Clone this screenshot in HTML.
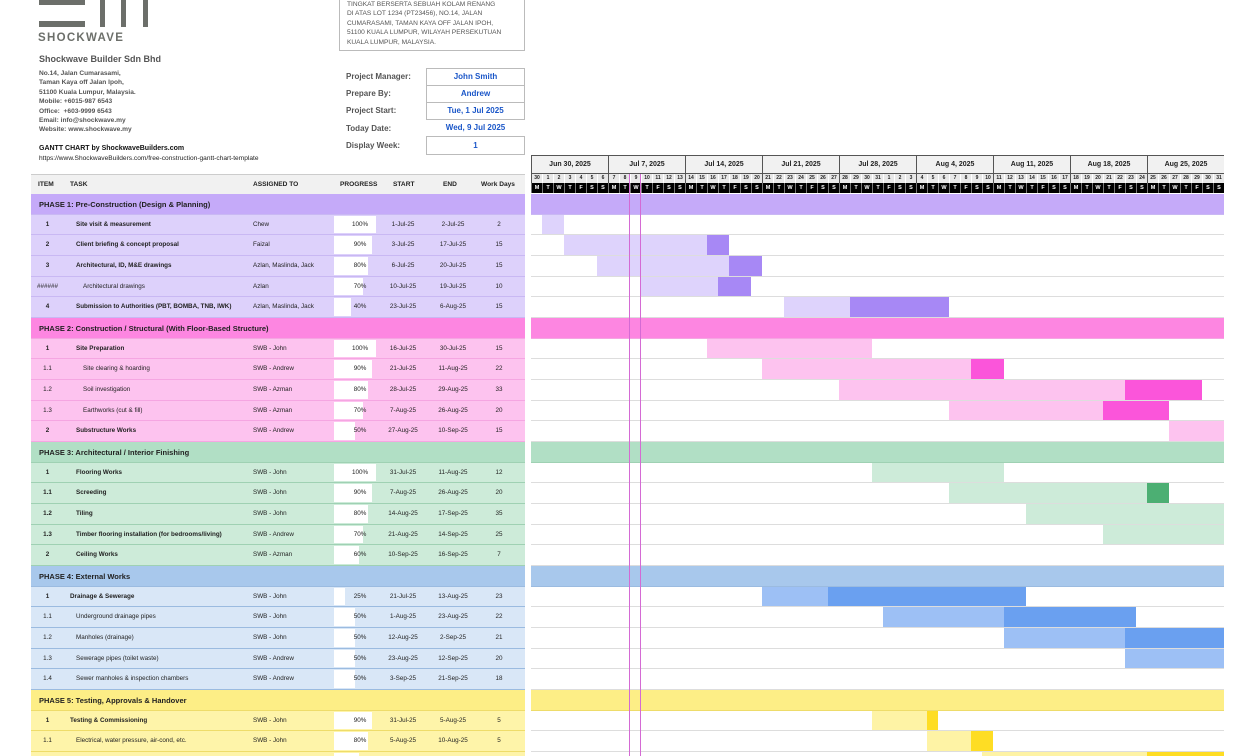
<!DOCTYPE html>
<html><head><meta charset="utf-8">
<style>
html,body{margin:0;width:1249px;height:756px;overflow:hidden}
body{background:#fff;font-family:"Liberation Sans",Arial,sans-serif;position:relative}
.a{position:absolute;white-space:nowrap}
.lbl{font-size:8px;font-weight:bold;color:#555}
.val{font-size:8px;font-weight:bold;color:#1a56c8;text-align:center}
.box{position:absolute;border:1px solid #bbb;box-sizing:border-box}
</style></head><body>
<div class="a" style="left:0;top:0;width:160px;height:46px">
  <div class="a" style="left:39px;top:0;width:46px;height:5px;background:#6c6f6a"></div>
  <div class="a" style="left:39px;top:21px;width:46px;height:6px;background:#6c6f6a"></div>
  <div class="a" style="left:100px;top:0;width:5px;height:27px;background:#6c6f6a"></div>
  <div class="a" style="left:121px;top:0;width:5px;height:27px;background:#6c6f6a"></div>
  <div class="a" style="left:143px;top:0;width:5px;height:27px;background:#6c6f6a"></div>
  <div class="a" style="left:38px;top:32px;font-size:11.5px;font-weight:bold;color:#6c6f6a;letter-spacing:1.3px">SHOCKWAVE</div>
</div>
<div class="a" style="left:39px;top:54px;font-size:9px;font-weight:bold;color:#555">Shockwave Builder Sdn Bhd</div>
<div class="a" style="left:39px;top:69px;font-size:6.6px;font-weight:bold;color:#555;line-height:9.4px">No.14, Jalan Cumarasami,<br>Taman Kaya off Jalan Ipoh,<br>51100 Kuala Lumpur, Malaysia.<br>Mobile: +6015-987 6543<br>Office:&nbsp; +603-9999 6543<br>Email: info@shockwave.my<br>Website: www.shockwave.my</div>
<div class="a" style="left:39px;top:145px;font-size:7px;font-weight:bold;color:#111">GANTT CHART by ShockwaveBuilders.com</div>
<div class="a" style="left:39px;top:155px;font-size:6.6px;color:#222">https://www.ShockwaveBuilders.com/free-construction-gantt-chart-template</div>

<div class="box" style="left:339px;top:-5px;width:186px;height:56px;padding:4px 0 0 7px;font-size:6.6px;color:#555;line-height:9.4px">TINGKAT BERSERTA SEBUAH KOLAM RENANG<br>DI ATAS LOT 1234 (PT23456), NO.14, JALAN<br>CUMARASAMI, TAMAN KAYA OFF JALAN IPOH,<br>51100 KUALA LUMPUR, WILAYAH PERSEKUTUAN<br>KUALA LUMPUR, MALAYSIA.</div>

<div class="a lbl" style="left:346px;top:72px">Project Manager:</div>
<div class="a lbl" style="left:346px;top:89px">Prepare By:</div>
<div class="a lbl" style="left:346px;top:106px">Project Start:</div>
<div class="a lbl" style="left:346px;top:124px">Today Date:</div>
<div class="a lbl" style="left:346px;top:141px">Display Week:</div>
<div class="box val" style="left:426px;top:68px;width:99px;height:18px;line-height:16px">John Smith</div>
<div class="box val" style="left:426px;top:85px;width:99px;height:18px;line-height:16px">Andrew</div>
<div class="box val" style="left:426px;top:102px;width:99px;height:18px;line-height:16px">Tue, 1 Jul 2025</div>
<div class="a val" style="left:426px;top:123px;width:99px">Wed, 9 Jul 2025</div>
<div class="box val" style="left:426px;top:136px;width:99px;height:19px;line-height:17px">1</div>

<div class="a" style="left:31px;top:174px;width:494px;height:20px;background:#f1f1f1;border-top:1px solid #ccc;font-size:6.6px;font-weight:bold;color:#222">
  <span class="a" style="left:7px;top:6px">ITEM</span>
  <span class="a" style="left:39px;top:6px">TASK</span>
  <span class="a" style="left:222px;top:6px">ASSIGNED TO</span>
  <span class="a" style="left:309px;top:6px">PROGRESS</span>
  <span class="a" style="left:362px;top:6px">START</span>
  <span class="a" style="left:412px;top:6px">END</span>
  <span class="a" style="left:450px;top:6px">Work Days</span>
</div>
<div id="gh"></div>
<div id="rows"></div>

<script>
const phases=["PHASE 1: Pre-Construction (Design & Planning)","PHASE 2: Construction / Structural  (With Floor-Based Structure)","PHASE 3: Architectural / Interior Finishing","PHASE 4: External Works","PHASE 5: Testing, Approvals & Handover"];
const phaseColors=[["#c5aaf9","#ddd1fb","#ded3fc","#a788f5","#c9b8f3"],["#fd86e1","#fdc3ef","#fdc3ef","#fb55da","#f5a6e2"],["#b1dfc5","#cdebd9","#cdebd9","#4caf73","#9fd1b3"],["#a8c8ec","#d9e7f7","#9dc0f5","#6aa0f0","#9bbbe0"],["#fdee86","#fef4a9","#fef3a5","#fedd24","#eedc6a"]];
const rowPhase=[0,0,0,0,0,0,1,1,1,1,1,1,2,2,2,2,2,2,3,3,3,3,3,3,4,4,4,4];
const rowIsPhase=[1,0,0,0,0,0,1,0,0,0,0,0,1,0,0,0,0,0,1,0,0,0,0,0,1,0,0,0];
const items=["","1","2","3","######","4","","1","1.1","1.2","1.3","2","","1","1.1","1.2","1.3","2","","1","1.1","1.2","1.3","1.4","","1","1.1","1.2"];
const tasks=["","Site visit & measurement","Client briefing & concept proposal","Architectural, ID, M&E drawings","Architectural drawings","Submission to Authorities (PBT, BOMBA, TNB, IWK)","","Site Preparation","Site clearing & hoarding","Soil investigation","Earthworks (cut & fill)","Substructure Works","","Flooring Works","Screeding","Tiling","Timber flooring installation (for bedrooms/living)","Ceiling Works","","Drainage & Sewerage","Underground drainage pipes","Manholes (drainage)","Sewerage pipes (toilet waste)","Sewer manholes & inspection chambers","","Testing & Commissioning","Electrical, water pressure, air-cond, etc.","Authority inspections"];
const taskBold=[0,1,1,1,0,1,0,1,0,0,0,1,0,1,1,1,1,1,0,1,0,0,0,0,0,1,0,0];
const taskIndent=[0,1,1,1,2,1,0,1,2,2,2,1,0,1,1,1,1,1,0,0,1,1,1,1,0,0,1,1];
const assigned=["","Chew","Faizal","Azlan, Maslinda, Jack","Azlan","Azlan, Maslinda, Jack","","SWB - John","SWB - Andrew","SWB - Azman","SWB - Azman","SWB - Andrew","","SWB - John","SWB - John","SWB - John","SWB - Andrew","SWB - Azman","","SWB - John","SWB - John","SWB - John","SWB - Andrew","SWB - Andrew","","SWB - John","SWB - John","SWB - John"];
const progress=[0,100,90,80,70,40,0,100,90,80,70,50,0,100,90,80,70,60,0,25,50,50,50,50,0,90,80,60];
const starts=["","1-Jul-25","3-Jul-25","6-Jul-25","10-Jul-25","23-Jul-25","","16-Jul-25","21-Jul-25","28-Jul-25","7-Aug-25","27-Aug-25","","31-Jul-25","7-Aug-25","14-Aug-25","21-Aug-25","10-Sep-25","","21-Jul-25","1-Aug-25","12-Aug-25","23-Aug-25","3-Sep-25","","31-Jul-25","5-Aug-25","10-Aug-25"];
const ends=["","2-Jul-25","17-Jul-25","20-Jul-25","19-Jul-25","6-Aug-25","","30-Jul-25","11-Aug-25","29-Aug-25","26-Aug-25","10-Sep-25","","11-Aug-25","26-Aug-25","17-Sep-25","14-Sep-25","16-Sep-25","","13-Aug-25","23-Aug-25","2-Sep-25","12-Sep-25","21-Sep-25","","5-Aug-25","10-Aug-25","3-Sep-25"];
const workDays=["","2","15","15","10","15","","15","22","33","20","15","","12","20","35","25","7","","23","22","21","20","18","","5","5","18"];
const weekLabels=["Jun 30, 2025","Jul 7, 2025","Jul 14, 2025","Jul 21, 2025","Jul 28, 2025","Aug 4, 2025","Aug 11, 2025","Aug 18, 2025","Aug 25, 2025"];
const todayIndex=9;

const X0=531,DW=11,ND=63,Y0=194,RH=20.67,GX1=X0+ND*DW;
const mon={Jun:5,Jul:6,Aug:7,Sep:8};
const base=Date.UTC(2025,5,30);
function dayIdx(s){const p=s.split('-');return Math.round((Date.UTC(2025,mon[p[1]],+p[0])-base)/864e5);}
function xOf(i){return X0+i*DW;}
function yOf(r){return Y0+r*RH;}
function mk(parent,css,txt){const d=document.createElement('div');d.className='a';d.style.cssText=css;if(txt!==undefined)d.textContent=txt;parent.appendChild(d);return d;}

const gh=document.getElementById('gh');
weekLabels.forEach((w,i)=>{
  const el=mk(gh,`left:${xOf(i*7)}px;top:155px;width:${7*DW}px;height:19px;background:#f1f1f1;border:1px solid #555;border-right:none;box-sizing:border-box;font-size:7px;font-weight:bold;color:#222;text-align:center;line-height:17px`,w);
  
  
});
const L="MTWTFSS";
for(let i=0;i<ND;i++){
  const d=new Date(base+i*864e5);
  const n=mk(gh,`left:${xOf(i)}px;top:174px;width:${DW}px;height:9px;background:#e8e8e8;border-left:1px solid ${i%7==0?'#555':'#fff'};box-sizing:border-box;font-size:5px;font-weight:bold;text-align:center;line-height:9px;color:#222`,String(d.getUTCDate()));
  
  
  const l=mk(gh,`left:${xOf(i)}px;top:183px;width:${DW}px;height:10px;background:#000;border-left:1px solid #777;box-sizing:border-box;font-size:5.5px;font-weight:bold;text-align:center;line-height:10px;color:#fff`,L[i%7]);
  
  
}

const R=document.getElementById('rows');
for(let r=0;r<rowPhase.length;r++){
  const c=phaseColors[rowPhase[r]],y=yOf(r),h=RH;
  if(rowIsPhase[r]){
    const p=mk(R,`left:31px;top:${y}px;width:494px;height:${h}px;background:${c[0]};border-bottom:1px solid ${c[4]};box-sizing:border-box;font-size:7.5px;font-weight:bold;color:#222;padding:6px 0 0 8px`,phases[rowPhase[r]]);
    
    
    const g=mk(R,`left:${X0}px;top:${y}px;width:${GX1-X0}px;height:${h}px;background:${c[0]};border-bottom:1px solid ${c[4]};box-sizing:border-box`);
    
    
    continue;
  }
  const row=mk(R,`left:31px;top:${y}px;width:494px;height:${h}px;background:${c[1]};border-bottom:1px solid ${c[4]};box-sizing:border-box;font-size:6.3px;color:#222`);
  
  
  mk(row,`left:0;top:6px;width:33px;text-align:center;font-weight:${taskBold[r]?'bold':'normal'}`,items[r]);
  mk(row,`left:${[39,45,52][taskIndent[r]]}px;top:6px;font-weight:${taskBold[r]?'bold':'normal'}`,tasks[r]);
  mk(row,`left:222px;top:6px`,assigned[r]);
  const pb=mk(row,`left:303px;top:1px;width:${42*progress[r]/100}px;height:${h-3}px;background:#fff`);
  
  
  mk(row,`left:303px;top:6px;width:52px;text-align:center`,progress[r]+'%');
  mk(row,`left:347px;top:6px;width:50px;text-align:center`,starts[r]);
  mk(row,`left:397px;top:6px;width:50px;text-align:center`,ends[r]);
  mk(row,`left:448px;top:6px;width:40px;text-align:center`,workDays[r]);
  const sep=mk(R,`left:${X0}px;top:${y+h-1}px;width:${GX1-X0}px;height:1px;background:#ddd`);
  
  
  if(!starts[r])continue;
  const s=dayIdx(starts[r]),e=dayIdx(ends[r])+1;
  const bx=xOf(s),bw=(e-s)*DW,split=xOf(s+Math.floor((e-s)*progress[r]/100));
  const x1=Math.min(split,GX1),x2=Math.min(bx+bw,GX1);
  if(x1>bx){const b=mk(R,`left:${bx}px;top:${y}px;width:${x1-bx}px;height:${h-1}px;background:${c[2]}`);
    
    }
  if(x2>x1){const b=mk(R,`left:${x1}px;top:${y}px;width:${x2-x1}px;height:${h-1}px;background:${c[3]}`);
    
    }
}
[0,1].forEach(k=>{const t=mk(R,`left:${xOf(todayIndex+k)-1}px;top:174px;width:1px;height:582px;background:#d46ad4`);
  
  });
</script>
</body></html>
